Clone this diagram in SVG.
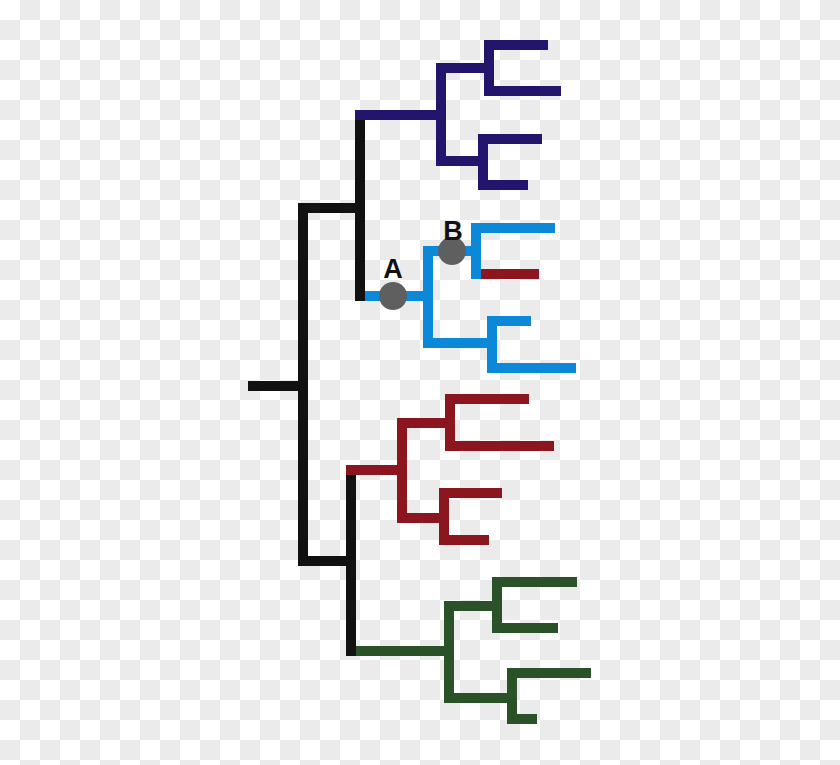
<svg xmlns="http://www.w3.org/2000/svg" width="840" height="765" viewBox="0 0 840 765">
<defs>
<pattern id="checker" x="0" y="0" width="40" height="40" patternUnits="userSpaceOnUse">
<rect x="0" y="0" width="40" height="40" fill="#ffffff"/>
<rect x="20" y="0" width="20" height="20" fill="#ebebeb"/>
<rect x="0" y="20" width="20" height="20" fill="#ebebeb"/>
</pattern>
</defs>
<style>
.br{fill:none;stroke-width:10;stroke-linejoin:miter;stroke-linecap:butt}
.k{stroke:#111111}
.p{stroke:#24156c}
.b{stroke:#0c88d8}
.r{stroke:#8c1620}
.g{stroke:#2a5128}
.dot{fill:#5f5f5f}
.lbl{font-family:"Liberation Sans",Arial,sans-serif;font-weight:bold;font-size:27px;fill:#111111;text-anchor:middle}
</style>
<rect width="840" height="765" fill="url(#checker)"/>
<g id="connectors">
<g id="backbone">
<path class="br k" d="M248 386 H303"/>
<path class="br k" d="M360 208 H303 V561 H351"/>
<path class="br k" d="M360 120 V301"/>
<path class="br k" d="M351 475 V656"/>
</g>
<g id="clade-purple">
<path class="br p" d="M355 115 H441"/>
<path class="br p" d="M489 68 H441 V161 H483"/>
<path class="br p" d="M548 45 H489 V91 H561"/>
<path class="br p" d="M542 139 H483 V185 H528"/>
</g>
<g id="clade-blue">
<path class="br b" d="M365 296 H428"/>
<path class="br b" d="M476 251 H428 V343 H492"/>
<path class="br b" d="M555 228 H476 V279"/>
<path class="br r" d="M481 274 H539"/>
<path class="br b" d="M531 321 H492 V368 H576"/>
</g>
<g id="clade-red">
<path class="br r" d="M346 470 H402"/>
<path class="br r" d="M450 423 H402 V518 H444"/>
<path class="br r" d="M529 399 H450 V446 H554"/>
<path class="br r" d="M502 493 H444 V540 H489"/>
</g>
<g id="clade-green">
<path class="br g" d="M356 651 H449"/>
<path class="br g" d="M497 606 H449 V698 H512"/>
<path class="br g" d="M577 582 H497 V628 H558"/>
<path class="br g" d="M591 673 H512 V719 H537"/>
</g>
</g>
<g id="node-A">
<circle class="dot" cx="393" cy="296" r="14"/>
<text class="lbl" x="393" y="278">A</text>
</g>
<g id="node-B">
<circle class="dot" cx="452" cy="251" r="14"/>
<text class="lbl" x="453" y="240">B</text>
</g>
</svg>
